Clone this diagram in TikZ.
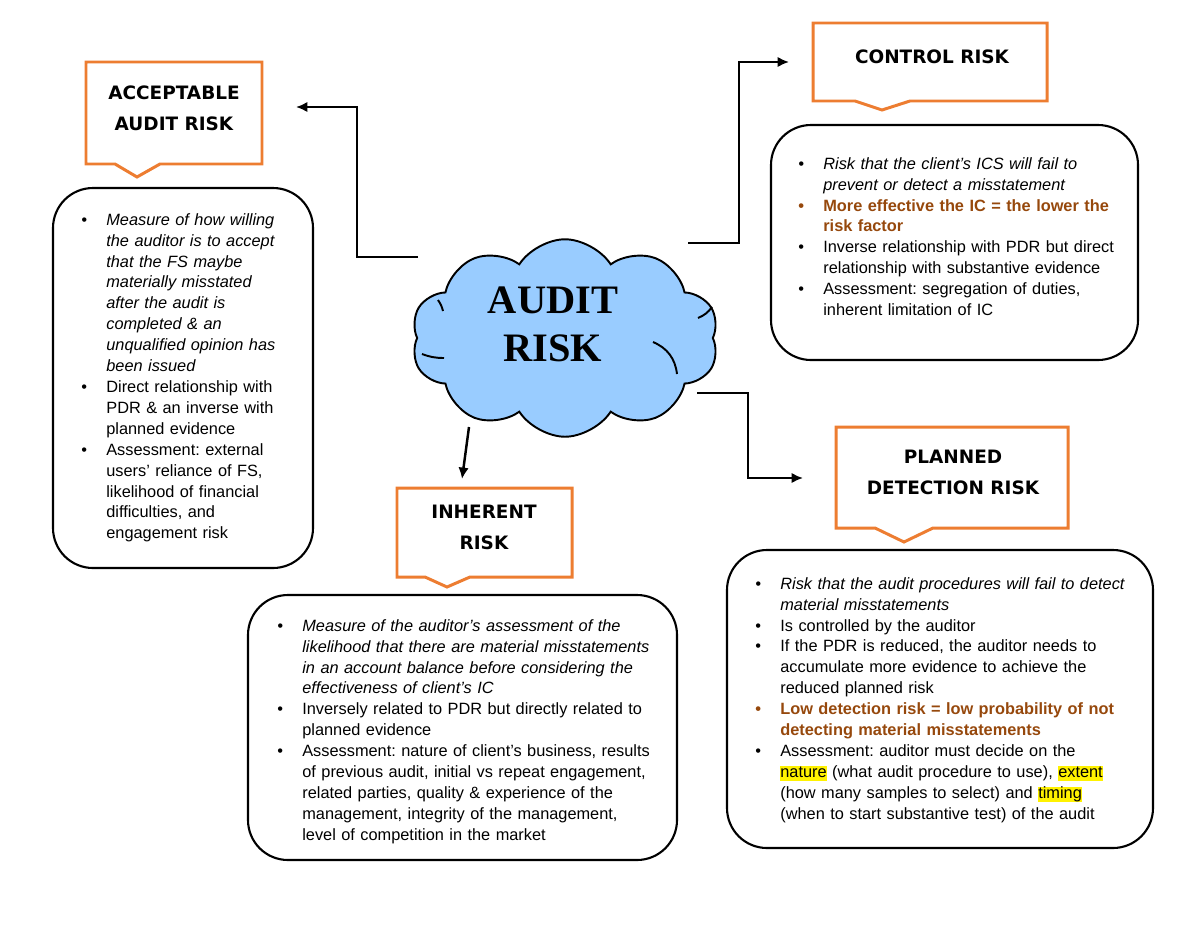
\documentclass[tikz,border=0pt]{standalone}
\usepackage{fontspec}
\setmainfont{Liberation Sans}
\newfontfamily\headfont{DejaVu Sans}
\newfontfamily\cloudfont{Liberation Serif}
\usetikzlibrary{shapes.symbols,arrows.meta,positioning,calc}
\definecolor{calloutorange}{RGB}{237,125,49}
\definecolor{cloudblue}{RGB}{153,204,255}
\definecolor{brn}{RGB}{150,72,12}
\frenchspacing
\newcommand{\bitem}{\par\noindent\llap{\textbullet\hspace{11pt}}}
\newcommand{\hl}[1]{{\setlength{\fboxsep}{0pt}\colorbox{yellow}{\vphantom{Ag(}#1}}}
\tikzset{
    calloutbox/.style={draw=calloutorange, line width=1.7pt, fill=white},
    headtext/.style={font=\headfont\bfseries\fontsize{10.5}{17.6}\selectfont, align=center, inner sep=0pt},
    notebox/.style={draw, line width=1.2pt, rounded corners=0.8cm},
    notes/.style={anchor=north west, inner sep=0pt, text width=9cm, align=left, font=\fontsize{9.3}{11.9}\selectfont},
    conn/.style={line width=1.4pt, -{Latex[length=6.5pt,width=6pt]}},
}
\begin{document}
\begin{tikzpicture}[x=0.02cm, y=-0.02cm]
    \useasboundingbox (0,0) rectangle (1200,927);

    % Central cloud
    \node (cloud) [cloud, cloud puffs=10, cloud puff arc=115, aspect=1.6, draw, line width=1.1pt, fill=cloudblue,
        minimum width=6.15cm, minimum height=3.95cm] at (565,338) {};
    \draw [line width=1.1pt] (438,300) to[bend left=10] (443,311);
    \draw [line width=1.1pt] (422,354) to[bend right=10] (444,358);
    \draw [line width=1.1pt] (653,342) to[bend left=30] (677,374);
    \draw [line width=1.1pt] (698,318) to[bend right=15] (712,307);
    \node (artext) [font=\cloudfont\bfseries\fontsize{23}{27.2}\selectfont, align=center, inner sep=0pt] at (553,324) {AUDIT\\RISK};

    % Orange headings with pointer
    \foreach \xa/\ya/\xb/\yb/\pa/\pt/\pb/\py in {86/62/262/164/115/137/160/177, 813/23/1047/101/855/882/910/110,
        397/488/572/577/425/447/470/587, 836/427/1068/528/875/904/933/542}
        \draw [calloutbox] (\xa,\ya) -- (\xb,\ya) -- (\xb,\yb) -- (\pb,\yb) -- (\pt,\py) -- (\pa,\yb) -- (\xa,\yb) -- cycle;
    \node (aar) [headtext] at (174,108) {ACCEPTABLE\\AUDIT RISK};
    \node (cr) [headtext] at (932,57) {CONTROL RISK};
    \node (ir) [headtext] at (484,527) {INHERENT\\RISK};
    \node (pdr) [headtext] at (953,472) {PLANNED\\DETECTION RISK};

    % Rounded note boxes
    \draw [notebox] (53,188) rectangle (313,568);
    \draw [notebox] (771,125) rectangle (1138,360);
    \draw [notebox] (248,595) rectangle (677,860);
    \draw [notebox] (727,550) rectangle (1153,848);

    % Notes
    \node (aarnotes) [notes] at (106,204) {%
        {\itshape\bitem Measure of how willing\\the auditor is to accept\\that the FS maybe\\materially misstated\\after the audit is\\completed \& an\\unqualified opinion has\\been issued}
        \bitem Direct relationship with\\PDR \& an inverse with\\planned evidence
        \bitem Assessment: external\\users' reliance of FS,\\likelihood of financial\\difficulties, and\\engagement risk};
    \node (crnotes) [notes] at (823,148) {%
        {\itshape\bitem Risk that the client's ICS will fail to\\prevent or detect a misstatement}
        {\color{brn}\bfseries\bitem More effective the IC = the lower the\\risk factor}
        \bitem Inverse relationship with PDR but direct\\relationship with substantive evidence
        \bitem Assessment: segregation of duties,\\inherent limitation of IC};
    \node (irnotes) [notes] at (302,610) {%
        {\itshape\bitem Measure of the auditor's assessment of the\\likelihood that there are material misstatements\\in an account balance before considering the\\effectiveness of client's IC}
        \bitem Inversely related to PDR but directly related to\\planned evidence
        \bitem Assessment: nature of client's business, results\\of previous audit, initial vs repeat engagement,\\related parties, quality \& experience of the\\management, integrity of the management,\\level of competition in the market};
    \node (pdrnotes) [notes] at (780,568) {%
        {\itshape\bitem Risk that the audit procedures will fail to detect\\material misstatements}
        \bitem Is controlled by the auditor
        \bitem If the PDR is reduced, the auditor needs to\\accumulate more evidence to achieve the\\reduced planned risk
        {\color{brn}\bfseries\bitem Low detection risk = low probability of not\\detecting material misstatements}
        \bitem Assessment: auditor must decide on the\\\hl{nature} (what audit procedure to use), \hl{extent}\\(how many samples to select) and \hl{timing}\\(when to start substantive test) of the audit};

    % Connectors
    \coordinate (aarfrom) at (418,257);
    \coordinate (aarto) at (296,107);
    \coordinate (crfrom) at (688,243);
    \coordinate (crto) at (789,62);
    \coordinate (pdrfrom) at (697,393);
    \coordinate (pdrto) at (803,478);
    \coordinate (irfrom) at (469,427);
    \coordinate (irto) at (462,479);
    \draw [conn] (aarfrom) -- ++(-61,0) |- (aarto);
    \draw [conn] (crfrom) -- ++(51,0) |- (crto);
    \draw [conn] (pdrfrom) -- ++(51,0) |- (pdrto);
    \draw [conn] (irfrom) -- (irto);
\end{tikzpicture}
\end{document}
